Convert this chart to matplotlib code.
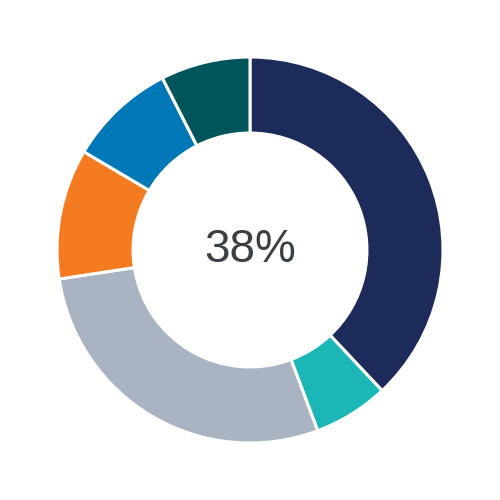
import matplotlib
matplotlib.use("Agg")
import matplotlib.pyplot as plt

shares = [38, 6.3, 28.3, 10.9, 9.0, 7.5]
colors = ["#1c2b5a", "#1bb7b7", "#a9b3c2", "#f47b20", "#0077b6", "#00555a"]
center_label = "38%"

fig = plt.figure(figsize=(5, 5), dpi=100)
ax = fig.add_axes([0, 0, 1, 1])
ax.pie(shares, colors=colors, startangle=90, counterclock=False,
       radius=1.0,
       wedgeprops=dict(width=0.394, edgecolor="white", linewidth=2.2))
lim = 250 / 193
ax.set_xlim(-lim, lim)
ax.set_ylim(-lim, lim)
ax.set_aspect("equal")
ax.text(0, 0.0, center_label, ha="center", va="center", fontsize=33,
        color="#3b4045", family=["Liberation Sans", "DejaVu Sans"])
ax.axis("off")
fig.savefig("out.png", dpi=100, facecolor="white")
